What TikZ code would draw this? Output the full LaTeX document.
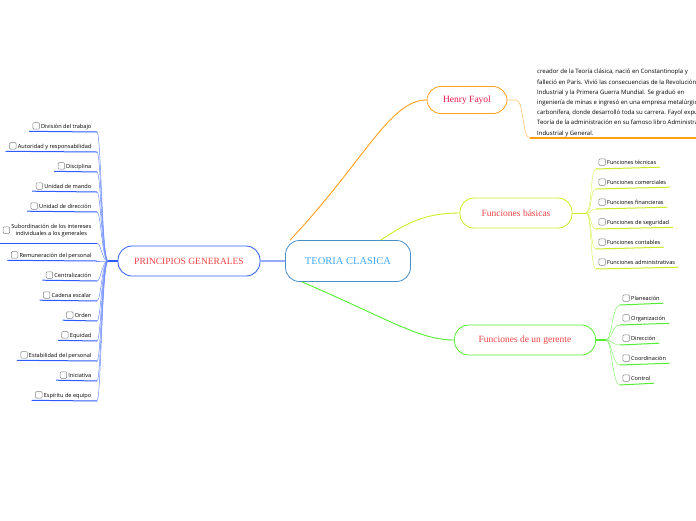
\documentclass[tikz,border=0pt]{standalone}
\usepackage{fontspec}
\setsansfont{Open Sans}
\setmainfont{Liberation Serif}
\definecolor{cblue}{HTML}{2E5BFF}
\definecolor{tblue}{HTML}{3FA9F5}
\definecolor{tbord}{HTML}{4A90C8}
\definecolor{orng}{HTML}{FF9F1A}
\definecolor{ygr}{HTML}{CCEE22}
\definecolor{grn}{HTML}{55EE33}
\definecolor{redt}{HTML}{EE4444}
\definecolor{crim}{HTML}{E8174F}
\newcommand\cbx{\tikz[x=1pt,y=1pt,baseline=0.9pt]\draw[gray,rounded corners=1pt,line width=0.5pt](0,0) rectangle (6.5,6.5);}
\tikzset{
 mainbox/.style={draw,rounded corners=14pt,line width=0.8pt,align=center,font=\fontsize{9.5}{11}\selectfont,inner sep=0pt},
 leaf/.style={font=\sffamily\fontsize{5.6}{7}\selectfont,inner sep=1.5pt,align=center},
}
\begin{document}
\begin{tikzpicture}[x=1pt,y=-1pt]
\clip (0,0) rectangle (696,520);
\fill[white] (0,0) rectangle (696,520);
% main nodes
\node[mainbox,draw=tbord,text=tblue,minimum width=125pt,minimum height=41pt,font=\fontsize{10.5}{12}\selectfont] (t) at (348,261) {TEORIA CLASICA};
\node[mainbox,draw=cblue,text=redt,minimum width=142pt,minimum height=30pt] (p) at (189,261) {PRINCIPIOS GENERALES};
\node[mainbox,draw=orng,text=crim,minimum width=80pt,minimum height=27pt] (h) at (467,100) {Henry Fayol};
\node[mainbox,draw=ygr,text=redt,minimum width=112pt,minimum height=30pt] (b) at (516,213) {Funciones básicas};
\node[mainbox,draw=grn,text=redt,minimum width=141pt,minimum height=30pt] (g) at (525,340) {Funciones de un gerente};
% main connectors
\draw[cblue!50,line width=1.5pt] (t.west) -- (p.east);
\draw[orng,line width=0.9pt] ([xshift=5pt]t.north west) .. controls (365,160) and (390,100) .. (h.west);
\draw[ygr,line width=0.9pt] ([xshift=-30pt]t.north east) .. controls (410,220) and (430,213) .. (b.west);
\draw[grn,line width=0.9pt] ([xshift=17pt]t.south west) .. controls (390,320) and (420,340) .. (g.west);
% Henry description
\node[leaf,align=left,anchor=north west,inner sep=0pt,font=\sffamily\fontsize{6}{10.2}\selectfont] (d) at (537,69) {creador de la Teoría clásica, nació en Constantinopla y\\falleció en París. Vivió las consecuencias de la Revolución\\Industrial y la Primera Guerra Mundial. Se graduó en\\ingeniería de minas e ingresó en una empresa metalúrgica y\\carbonífera, donde desarrolló toda su carrera. Fayol expuso su\\Teoría de la administración en su famoso libro Administración\\Industrial y General.};
\coordinate (dl) at (530,138);
\draw[orng!60,line width=0.6pt] (h.east) -- (516,100) .. controls (524,100) and (522,138) .. (dl);
\draw[orng,line width=1.2pt] (dl) -- (700,138);
% left leaves
\coordinate (lh) at (108,261);
\draw[cblue,line width=1.2pt] (p.west) -- (lh);
\foreach \n/\y/\txt in {1/126/División del trabajo,2/146/Autoridad y responsabilidad,3/166/Disciplina,4/186/Unidad de mando,5/206/Unidad de dirección,7/255/Remuneración del personal,8/275/Centralización,9/295/Cadena escalar,10/315/Orden,11/335/Equidad,12/355/Estabilidad del personal,13/375/Iniciativa,14/395/Espíritu de equipo}{
 \node[leaf,anchor=east] (l\n) at (93,\y) {\cbx\ \txt};
 \draw[cblue,line width=1pt] ([xshift=-2pt]l\n.south west) -- (97,\y+6);
 \draw[cblue!70,line width=0.5pt] (97,\y+6) .. controls (101,\y+6) and (102,261) .. (lh);
}
\node[leaf,anchor=east] (l6) at (93,231) {\cbx\ \begin{tabular}{@{}c@{}}Subordinación de los intereses\\individuales a los generales\end{tabular}};
\draw[cblue,line width=1pt] (0,243) -- (97,243);
\draw[cblue!70,line width=0.5pt] (97,243) .. controls (101,243) and (102,261) .. (lh);
% basicas leaves
\coordinate (bh) at (586,213);
\draw[ygr,line width=1pt] (b.east) -- (bh);
\foreach \n/\y/\txt in {1/162/Funciones técnicas,2/182/Funciones comerciales,3/202/Funciones financieras,4/222/Funciones de seguridad,5/242/Funciones contables,6/262/Funciones administrativas}{
 \node[leaf,anchor=west] (b\n) at (597,\y) {\cbx\ \txt};
 \draw[ygr,line width=1pt] (596,\y+7) -- ([xshift=2pt]b\n.south east);
 \draw[ygr!70,line width=0.5pt] (bh) .. controls (592,213) and (590,\y+7) .. (596,\y+7);
}
% gerente leaves
\coordinate (gh) at (606,340);
\draw[grn,line width=1.2pt] (g.east) -- (gh);
\foreach \n/\y/\txt in {1/298/Planeación,2/318/Organización,3/338/Dirección,4/358/Coordinación,5/378/Control}{
 \node[leaf,anchor=west] (g\n) at (621,\y) {\cbx\ \txt};
 \draw[grn,line width=1pt] (620,\y+7) -- ([xshift=2pt]g\n.south east);
 \draw[grn!70,line width=0.5pt] (gh) .. controls (612,340) and (612,\y+7) .. (620,\y+7);
}
\end{tikzpicture}
\end{document}
